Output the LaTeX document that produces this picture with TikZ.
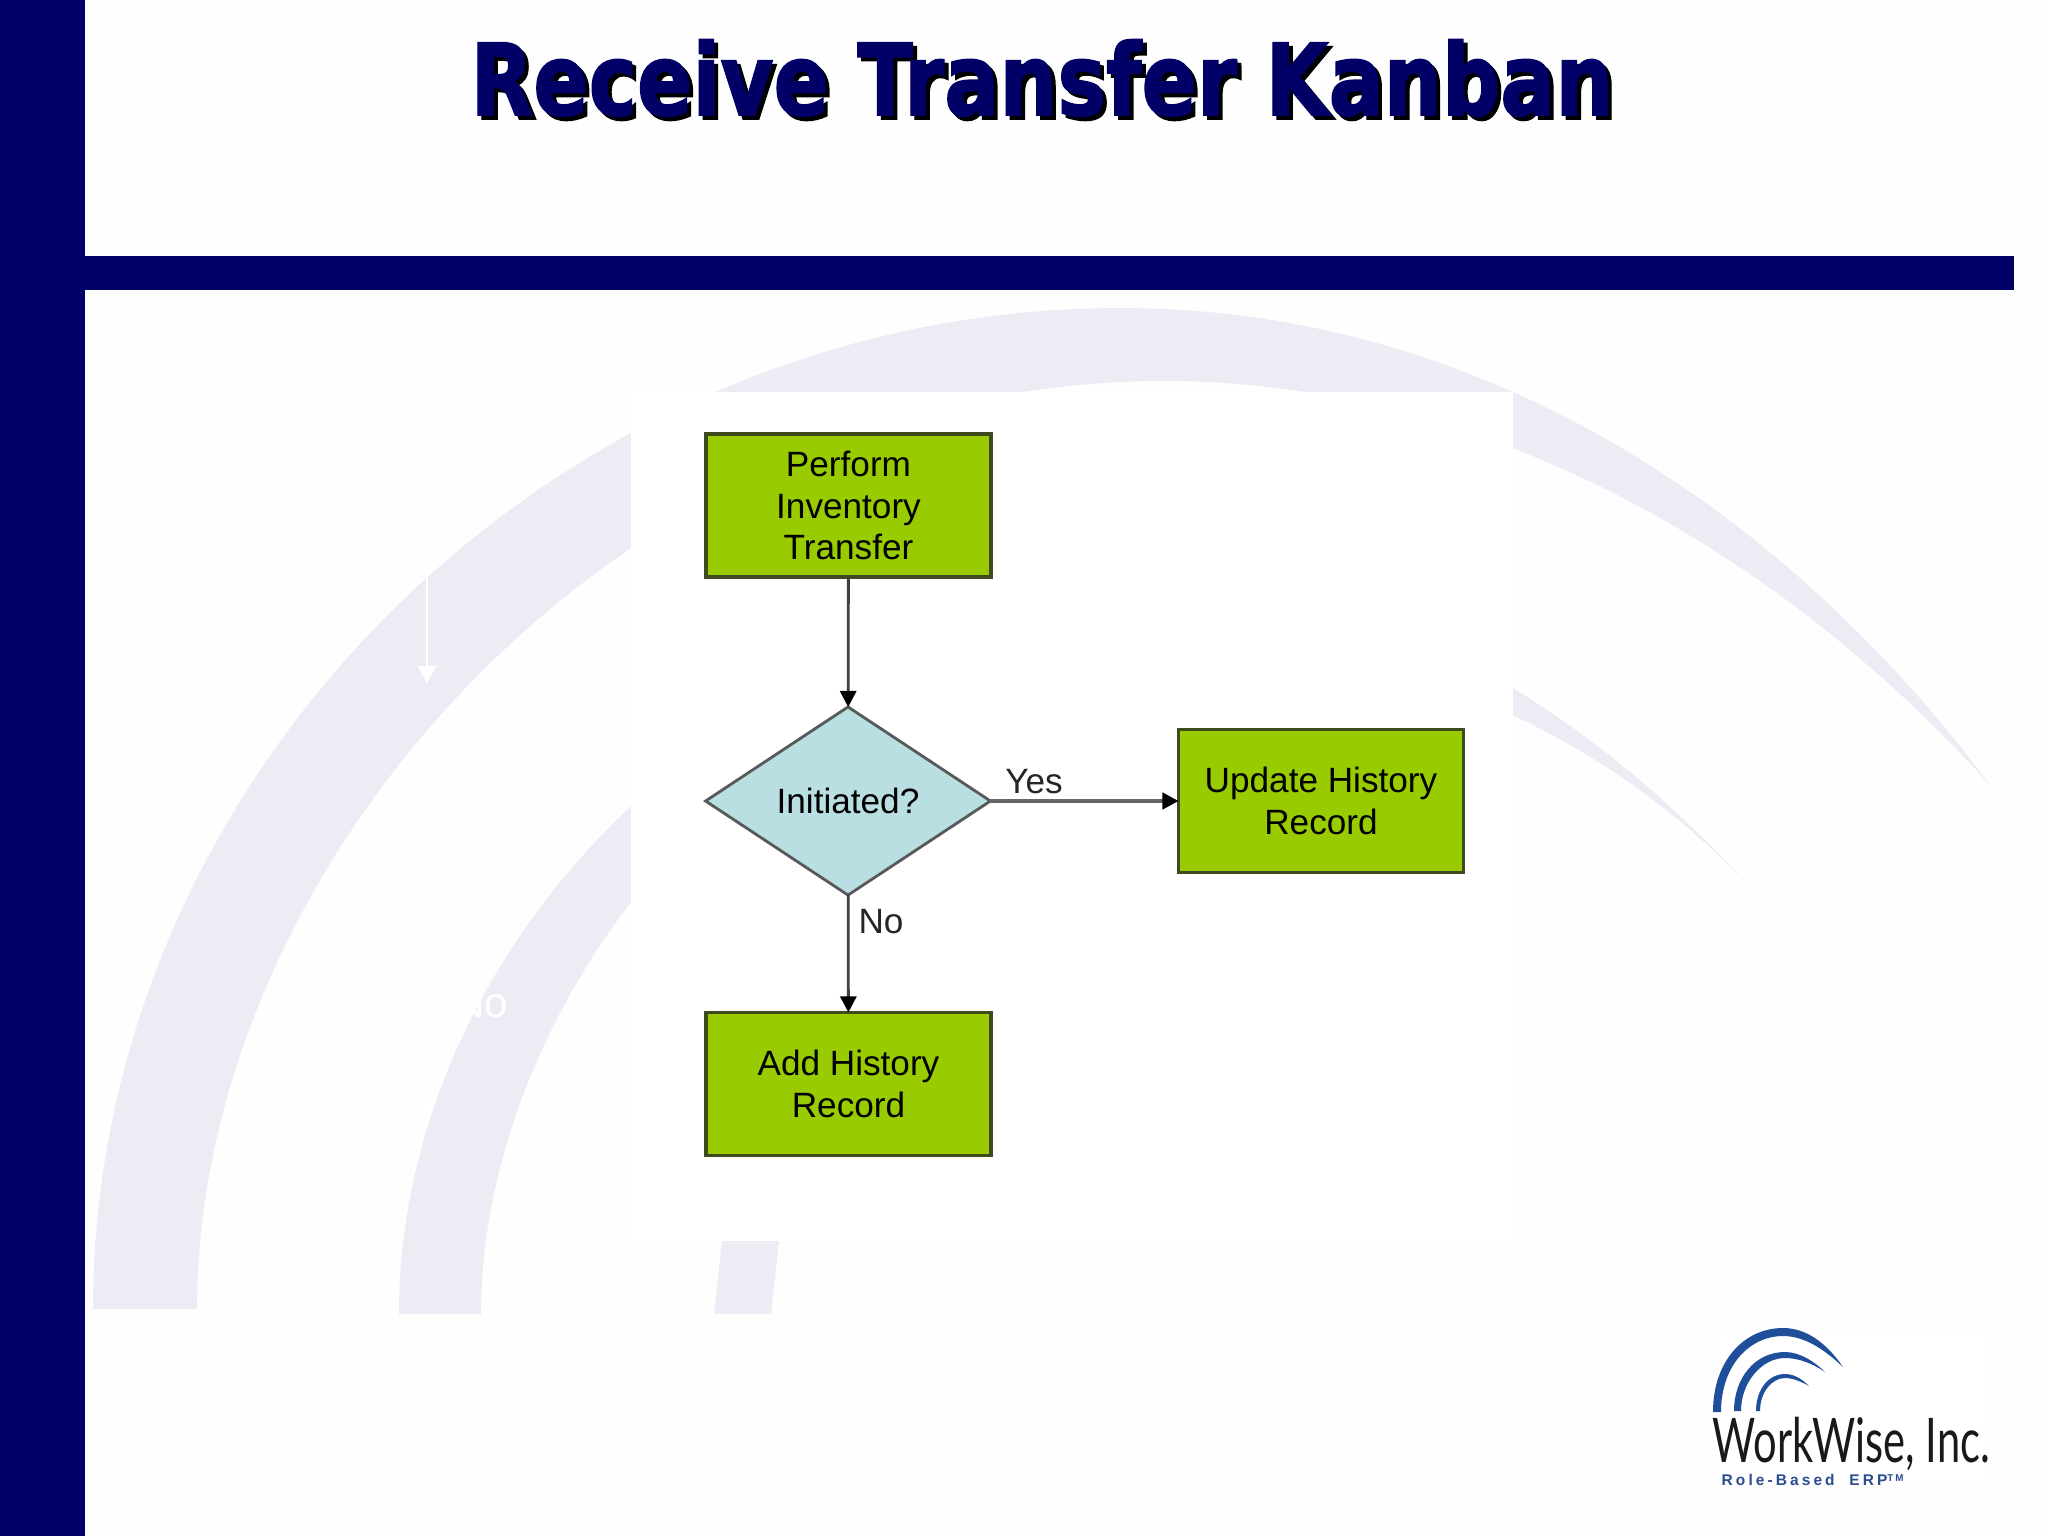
\documentclass[tikz,border=0pt]{standalone}
\usepackage{fontspec}
\setmainfont{Liberation Sans}
\newfontfamily\titlefont[FakeBold=1.6]{DejaVu Sans Bold}
\newfontfamily\logofont{Lato}
\newfontfamily\tagfont[LetterSpace=20]{Liberation Sans}
\usetikzlibrary{shapes.geometric,arrows.meta}
\definecolor{navy}{HTML}{000066}
\definecolor{wash}{HTML}{ECECF4}
\definecolor{slide}{HTML}{FEFEFE}
\definecolor{leaf}{HTML}{99CC00}
\definecolor{leafedge}{HTML}{3F4A1E}
\definecolor{ice}{HTML}{B9DFE3}
\definecolor{logoblue}{HTML}{1F4E9A}
\definecolor{tagblue}{HTML}{2C4C90}
\tikzset{
  x=0.01cm,y=-0.01cm,
  procbox/.style={draw=leafedge,fill=leaf,line width=1pt,minimum width=81pt,minimum height=40.7pt,inner sep=0pt,outer sep=0pt,align=center,text=black,font=\fontsize{10}{11.8}\selectfont},
  decision/.style={diamond,aspect=1.5,draw=black!65,fill=ice,line width=.8pt,minimum width=81pt,minimum height=53.5pt,inner sep=0pt,outer sep=0pt,text=black,font=\fontsize{10}{11.8}\selectfont},
  flow/.style={draw=black!75,line width=.8pt,-{Triangle[length=4.6pt,width=4.6pt,color=black]}},
  flowyes/.style={draw=black!60,line width=1.3pt,-{Triangle[length=4.6pt,width=4.6pt,color=black]}},
  flowlabel/.style={inner sep=0pt,text=black!85,font=\fontsize{10}{11.8}\selectfont},
  ghost/.style={draw=white,line width=.7pt,-{Triangle[length=4.8pt,width=5.2pt,fill=white]}},
  titletext/.style={inner sep=0pt,font=\titlefont\fontsize{28.3}{30}\selectfont},
  logoarc/.style={fill=logoblue},
}
\newcommand{\slidetitle}{\scalebox{0.82}[1]{Receive Transfer Kanban}}
\begin{document}
\begin{tikzpicture}
\useasboundingbox (0,0) rectangle (2048,1536);
\fill[slide] (0,0) rectangle (2048,1536);
% background swooshes
\fill[wash] (93,1309) .. controls (93,770) and (560,308) .. (1120,308)
  .. controls (1500,308) and (1800,530) .. (1990,785)
  .. controls (1750,520) and (1450,381) .. (1165,381)
  .. controls (620,381) and (197,860) .. (197,1309) -- cycle;
\fill[wash] (399,1314) .. controls (399,1000) and (640,700) .. (1000,600)
  .. controls (1300,520) and (1570,690) .. (1745,882)
  .. controls (1620,750) and (1400,620) .. (1100,640)
  .. controls (760,650) and (481,1000) .. (481,1314) -- cycle;
\fill[wash] (714,1314) -- (722,1241) -- (779,1241) -- (771,1314) -- cycle;
% white ghost marks
\coordinate (ghostA) at (427,566);
\coordinate (ghostB) at (427,683);
\coordinate (ghostC) at (427,1070);
\coordinate (ghostD) at (427,1118);
\draw[ghost] (ghostA) -- (ghostB);
\draw[ghost] (ghostC) -- (ghostD);
\node[inner sep=0pt,text=white,font=\fontsize{12}{12}\selectfont] (ghostno) at (481,1003) {No};
% white panel under the flowchart
\fill[white] (631,392) rectangle (1513,1241);
% bars
\fill[navy] (0,0) rectangle (85,1536);
\fill[navy] (85,256) rectangle (2014,290);
% title
\node[titletext,text=black] (titleshadow) at (1046,82) {\slidetitle};
\node[titletext,text=navy] (titlemain) at (1042,78) {\slidetitle};
% flowchart
\node[procbox] (perform) at (848.5,505.5) {Perform\\Inventory\\Transfer};
\node[decision] (initiated) at (848,801) {Initiated?};
\node[procbox] (update) at (1321,801) {Update History\\Record};
\node[procbox] (add) at (848.5,1084) {Add History\\Record};
\draw[flow] (perform) -- (initiated);
\draw[flowyes] (initiated) -- (update);
\draw[flow] (initiated) -- (add);
\node[flowlabel] (yes) at (1034,782) {Yes};
\node[flowlabel] (no) at (881,922) {No};
% logo
\fill[white!98!wash] (1714,1330) rectangle (1984,1485);
\fill[logoarc] (1713,1412) .. controls (1713,1360) and (1745,1328) .. (1783,1328)
  .. controls (1810,1328) and (1830,1348) .. (1843,1367)
  .. controls (1825,1350) and (1805,1336) .. (1783,1336)
  .. controls (1750,1336) and (1721,1365) .. (1721,1412) -- cycle;
\fill[logoarc] (1734,1411) .. controls (1734,1378) and (1755,1352) .. (1785,1352)
  .. controls (1800,1352) and (1815,1362) .. (1825,1372)
  .. controls (1812,1363) and (1798,1358) .. (1785,1358)
  .. controls (1762,1358) and (1741,1382) .. (1741,1411) -- cycle;
\fill[logoarc] (1756,1411) .. controls (1756,1390) and (1768,1374) .. (1785,1374)
  .. controls (1795,1374) and (1803,1380) .. (1809,1386)
  .. controls (1802,1382) and (1793,1378) .. (1785,1378)
  .. controls (1772,1378) and (1760,1392) .. (1760,1411) -- cycle;
\node[inner sep=0pt,anchor=base west,text=black!90] (wordmark) at (1712,1462) {\scalebox{0.677}[1]{\logofont\fontsize{17.5}{18}\selectfont WorkWise, Inc.}};
\node[inner sep=0pt,anchor=base west,text=tagblue] (tagline) at (1721,1485) {\tagfont\bfseries\fontsize{4.4}{5}\selectfont Role-Based\ \ ERP\raisebox{1pt}{\fontsize{2.8}{3}\selectfont TM}};
\end{tikzpicture}
\end{document}
